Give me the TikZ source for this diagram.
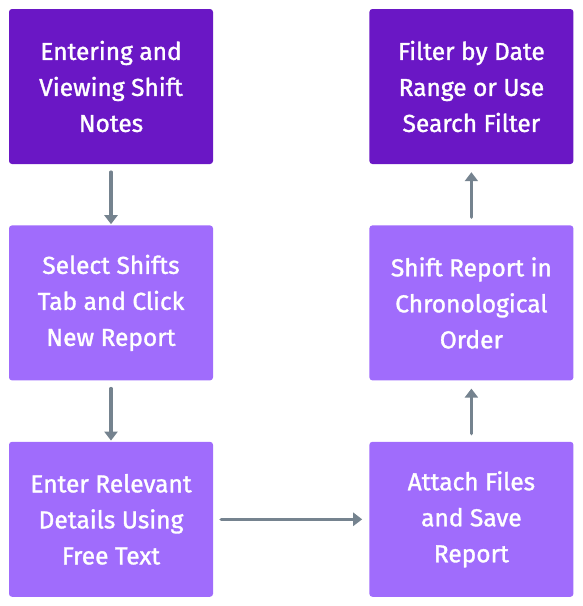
\documentclass[tikz,border=0pt]{standalone}
\usepackage{fontspec}
\newfontfamily\boxfont{Fira Sans}[UprightFeatures={FakeBold=1.3}]
\usepackage{tikz}
\usetikzlibrary{positioning, arrows.meta}
\definecolor{darkviolet}{HTML}{6A17C5}
\definecolor{lightviolet}{HTML}{A06CFC}
\definecolor{arrowgrey}{HTML}{75838F}

\tikzset{
    stepbox/.style={rectangle, rounded corners=3pt, minimum width=204pt, minimum height=155pt,
        text=white, align=center, font=\boxfont\fontsize{24.5}{36}\selectfont, inner sep=0pt},
    topbox/.style={stepbox, fill=darkviolet},
    midbox/.style={stepbox, fill=lightviolet},
    flow/.style={arrowgrey, line width=3.5pt, line cap=round,
        -{Triangle[length=9pt,width=13pt]}}
}

\begin{document}
\begin{tikzpicture}[x=1pt,y=-1pt]
    \useasboundingbox (0,0) rectangle (582,606);

    % Left column
    \node[topbox] (entering) at (111,86.5) {Entering and\\Viewing Shift\\Notes};
    \node[midbox, below=61pt of entering] (select) {Select Shifts\\Tab and Click\\New Report};
    \node[midbox, below=61pt of select] (enter) {Enter Relevant\\Details Using\\Free Text};

    % Right column
    \node[midbox, right=156pt of enter] (attach) {Attach Files\\and Save\\Report};
    \node[midbox, above=61pt of attach] (report) {Shift Report in\\Chronological\\Order};
    \node[topbox, above=61pt of report] (filter) {Filter by Date\\Range or Use\\Search Filter};

    % Connectors
    \draw[flow, shorten <=8pt, shorten >=1pt] (entering) -- (select);
    \draw[flow, shorten <=8pt, shorten >=1pt] (select) -- (enter);
    \draw[flow, shorten <=8pt, shorten >=7pt] (enter) -- (attach);
    \draw[flow, shorten <=8pt, shorten >=8pt] (attach) -- (report);
    \draw[flow, shorten <=8pt, shorten >=8pt] (report) -- (filter);
\end{tikzpicture}
\end{document}
